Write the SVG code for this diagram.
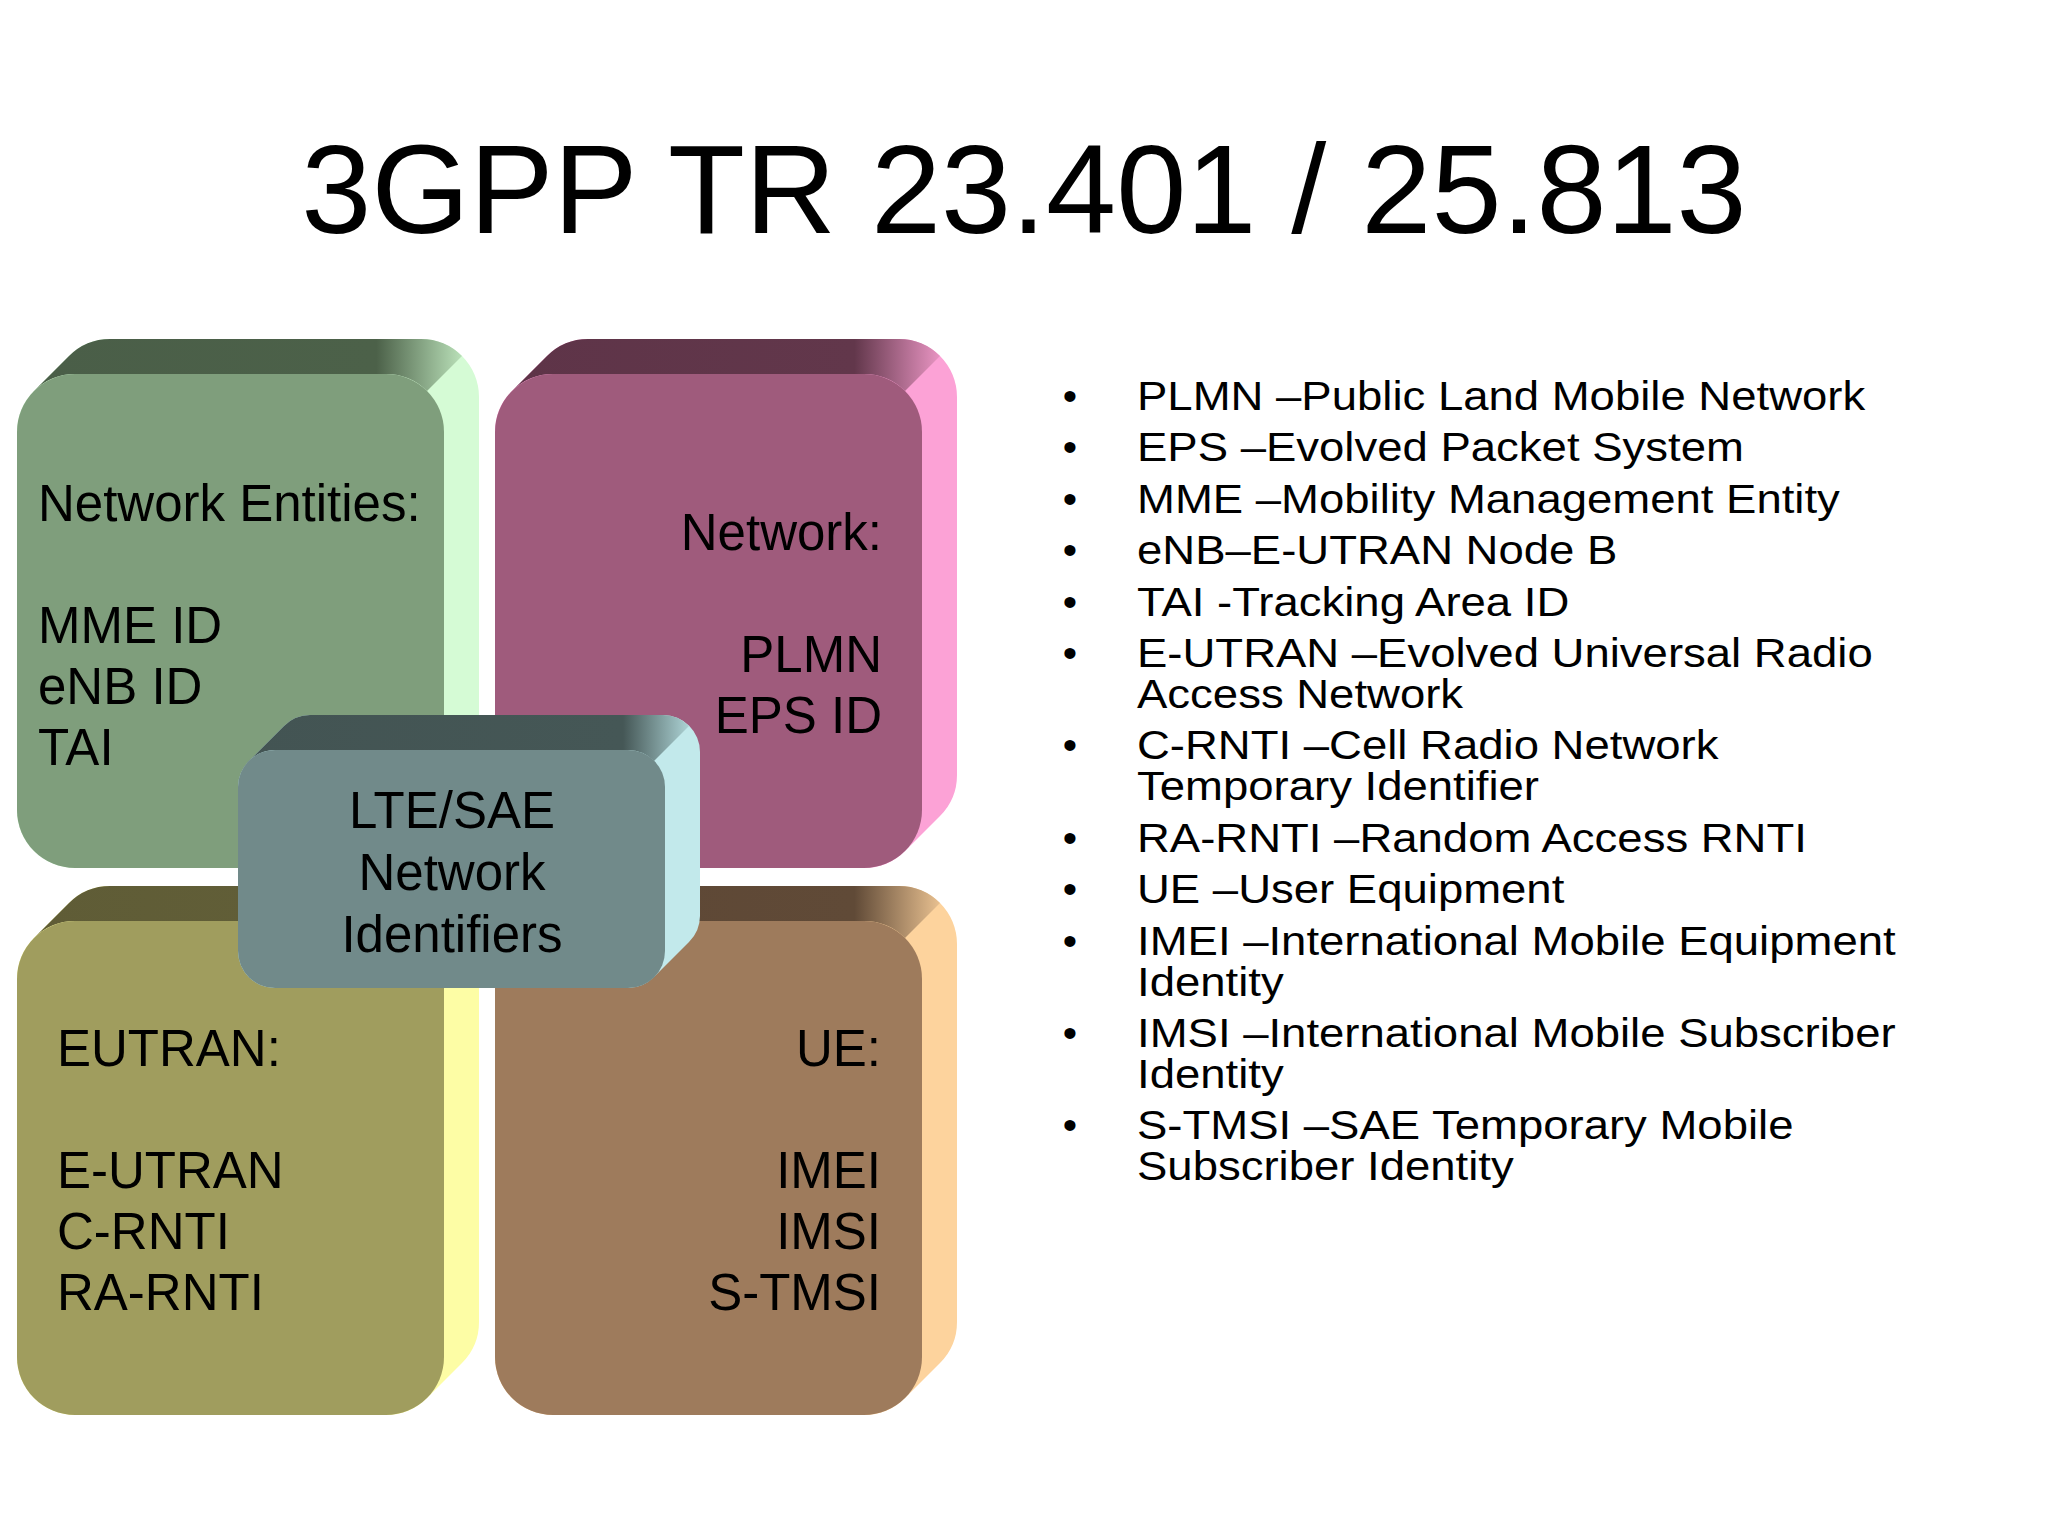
<svg xmlns="http://www.w3.org/2000/svg" xmlns:xlink="http://www.w3.org/1999/xlink" width="2048" height="1536" viewBox="0 0 2048 1536">
<style>
text{font-family:"Liberation Sans",Arial,sans-serif;fill:#000}
.title{font-size:126px}
.blk{font-size:51px}
.bul{font-size:41px}
</style>
<defs>
<path id="bigHull" d="M17 17 L52 -18 A58 58 0 0 1 93 -35 H404 A58 58 0 0 1 462 23 V401 A58 58 0 0 1 445 442 L410 477 A58 58 0 0 1 369 494 H58 A58 58 0 0 1 0 436 V58 A58 58 0 0 1 17 17 Z"/>
<path id="bigTop" d="M17 17 L52 -18 A58 58 0 0 1 93 -35 H404 A58 58 0 0 1 445 -18 L410 17 A58 58 0 0 0 369 0 H58 A58 58 0 0 0 17 17 Z"/>
<rect id="bigFront" x="0" y="0" width="427" height="494" rx="58" ry="58"/>
<path id="smHull" d="M11 11 L46 -24 A37 37 0 0 1 72 -35 H425 A37 37 0 0 1 462 2 V166 A37 37 0 0 1 451 192 L416 227 A37 37 0 0 1 390 238 H37 A37 37 0 0 1 0 201 V37 A37 37 0 0 1 11 11 Z"/>
<path id="smTop" d="M11 11 L46 -24 A37 37 0 0 1 72 -35 H425 A37 37 0 0 1 451 -24 L416 11 A37 37 0 0 0 390 0 H37 A37 37 0 0 0 11 11 Z"/>
<rect id="smFront" x="0" y="0" width="427" height="238" rx="37" ry="37"/>
<linearGradient id="gGreen" x1="0" y1="0" x2="1" y2="0"><stop offset="0" stop-color="#4a5e48"/><stop offset="0.8" stop-color="#4c6149"/><stop offset="1" stop-color="#b9e0b8"/></linearGradient>
<linearGradient id="gPink" x1="0" y1="0" x2="1" y2="0"><stop offset="0" stop-color="#5e3448"/><stop offset="0.8" stop-color="#62374b"/><stop offset="1" stop-color="#e894c2"/></linearGradient>
<linearGradient id="gOlive" x1="0" y1="0" x2="1" y2="0"><stop offset="0" stop-color="#5f5c36"/><stop offset="0.8" stop-color="#625f38"/><stop offset="1" stop-color="#e6e69a"/></linearGradient>
<linearGradient id="gBrown" x1="0" y1="0" x2="1" y2="0"><stop offset="0" stop-color="#5d4735"/><stop offset="0.8" stop-color="#604a37"/><stop offset="1" stop-color="#e8c090"/></linearGradient>
<linearGradient id="gTeal" x1="0" y1="0" x2="1" y2="0"><stop offset="0" stop-color="#435453"/><stop offset="0.85" stop-color="#455756"/><stop offset="1" stop-color="#acd2d4"/></linearGradient>
</defs>
<rect x="0" y="0" width="2048" height="1536" fill="#ffffff"/>

<text id="title" class="title" x="1024" y="233" text-anchor="middle">3GPP TR 23.401 / 25.813</text>

<g id="node-network-entities" transform="translate(17 374)">
<use xlink:href="#bigHull" fill="#d5fbd5"/>
<use xlink:href="#bigTop" fill="url(#gGreen)"/>
<use xlink:href="#bigFront" fill="#7f9e7c"/>
<text class="blk"><tspan x="21" y="147">Network Entities:</tspan><tspan x="21" y="269">MME ID</tspan><tspan x="21" y="330">eNB ID</tspan><tspan x="21" y="391">TAI</tspan></text>
</g>

<g id="node-network" transform="translate(495 374)">
<use xlink:href="#bigHull" fill="#fca2d6"/>
<use xlink:href="#bigTop" fill="url(#gPink)"/>
<use xlink:href="#bigFront" fill="#9f5b7c"/>
<text class="blk" text-anchor="end"><tspan x="387" y="176">Network:</tspan><tspan x="387" y="298">PLMN</tspan><tspan x="387" y="359">EPS ID</tspan></text>
</g>

<g id="node-eutran" transform="translate(17 921)">
<use xlink:href="#bigHull" fill="#fdfda5"/>
<use xlink:href="#bigTop" fill="url(#gOlive)"/>
<use xlink:href="#bigFront" fill="#a09d5e"/>
<text class="blk"><tspan x="40" y="145">EUTRAN:</tspan><tspan x="40" y="267">E-UTRAN</tspan><tspan x="40" y="328">C-RNTI</tspan><tspan x="40" y="389">RA-RNTI</tspan></text>
</g>

<g id="node-ue" transform="translate(495 921)">
<use xlink:href="#bigHull" fill="#fdd39d"/>
<use xlink:href="#bigTop" fill="url(#gBrown)"/>
<use xlink:href="#bigFront" fill="#9e7b5c"/>
<text class="blk" text-anchor="end"><tspan x="386" y="145">UE:</tspan><tspan x="386" y="267">IMEI</tspan><tspan x="386" y="328">IMSI</tspan><tspan x="386" y="389">S-TMSI</tspan></text>
</g>

<g id="node-lte-sae" transform="translate(238 750)">
<use xlink:href="#smHull" fill="#c2e9eb"/>
<use xlink:href="#smTop" fill="url(#gTeal)"/>
<use xlink:href="#smFront" fill="#718a8a"/>
<text class="blk" text-anchor="middle"><tspan x="214" y="78">LTE/SAE</tspan><tspan x="214" y="140">Network</tspan><tspan x="214" y="202">Identifiers</tspan></text>
</g>

<g id="connectors"/>

<g id="legend">
<g class="bullets">
<text class="bul" x="1070" y="410" text-anchor="middle">•</text>
<text class="bul" x="1070" y="461" text-anchor="middle">•</text>
<text class="bul" x="1070" y="513" text-anchor="middle">•</text>
<text class="bul" x="1070" y="564" text-anchor="middle">•</text>
<text class="bul" x="1070" y="616" text-anchor="middle">•</text>
<text class="bul" x="1070" y="667" text-anchor="middle">•</text>
<text class="bul" x="1070" y="759" text-anchor="middle">•</text>
<text class="bul" x="1070" y="852" text-anchor="middle">•</text>
<text class="bul" x="1070" y="903" text-anchor="middle">•</text>
<text class="bul" x="1070" y="955" text-anchor="middle">•</text>
<text class="bul" x="1070" y="1047" text-anchor="middle">•</text>
<text class="bul" x="1070" y="1139" text-anchor="middle">•</text>
</g>
<g transform="translate(1137 0) scale(1.11 1)">
<text class="bul" x="0" y="410">PLMN –Public Land Mobile Network</text>
<text class="bul" x="0" y="461">EPS –Evolved Packet System</text>
<text class="bul" x="0" y="513">MME –Mobility Management Entity</text>
<text class="bul" x="0" y="564">eNB–E-UTRAN Node B</text>
<text class="bul" x="0" y="616">TAI -Tracking Area ID</text>
<text class="bul"><tspan x="0" y="667">E-UTRAN –Evolved Universal Radio</tspan><tspan x="0" y="708">Access Network</tspan></text>
<text class="bul"><tspan x="0" y="759">C-RNTI –Cell Radio Network</tspan><tspan x="0" y="800">Temporary Identifier</tspan></text>
<text class="bul" x="0" y="852">RA-RNTI –Random Access RNTI</text>
<text class="bul" x="0" y="903">UE –User Equipment</text>
<text class="bul"><tspan x="0" y="955">IMEI –International Mobile Equipment</tspan><tspan x="0" y="996">Identity</tspan></text>
<text class="bul"><tspan x="0" y="1047">IMSI –International Mobile Subscriber</tspan><tspan x="0" y="1088">Identity</tspan></text>
<text class="bul"><tspan x="0" y="1139">S-TMSI –SAE Temporary Mobile</tspan><tspan x="0" y="1180">Subscriber Identity</tspan></text>
</g>
</g>
</svg>
